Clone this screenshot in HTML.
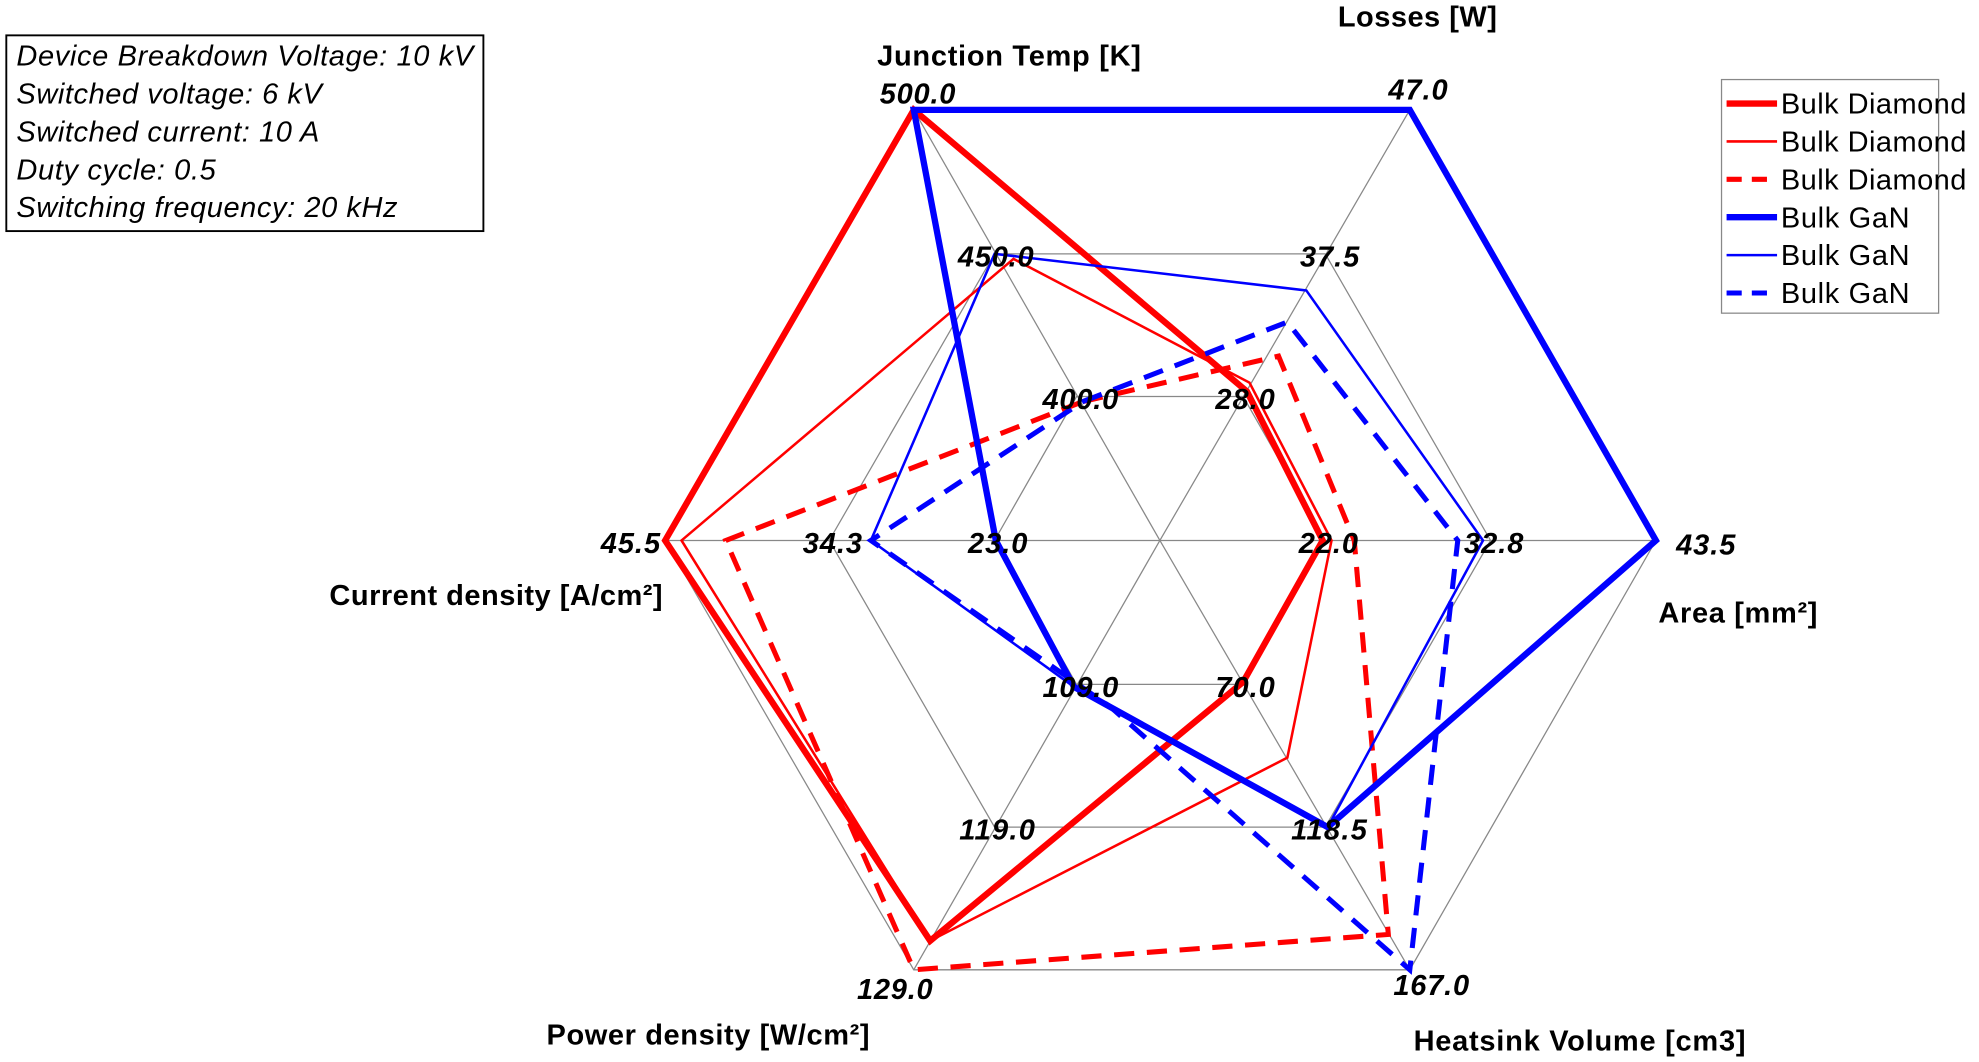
<!DOCTYPE html>
<html><head><style>body{margin:0;background:#fff}svg{display:block}</style></head><body>
<svg width="1979" height="1062" viewBox="0 0 1568 841" preserveAspectRatio="none" xmlns="http://www.w3.org/2000/svg" font-family="Liberation Sans, sans-serif">
<g stroke="#888" stroke-width="1" fill="none">
<polygon points="724,87 1117,87 1312,428 1117,768 724,768 527,428"/>
<polygon points="788,201 1050,201 1181,428 1050,655 788,655 657,428"/>
<polygon points="853,314 985,314 1050,428 985,542 853,542 788,428"/>
<line x1="919" y1="428" x2="724" y2="87"/><line x1="919" y1="428" x2="1117" y2="87"/>
<line x1="919" y1="428" x2="1312" y2="428"/><line x1="919" y1="428" x2="1117" y2="768"/>
<line x1="919" y1="428" x2="724" y2="768"/><line x1="919" y1="428" x2="527" y2="428"/>
</g>
<g fill="none" stroke-linejoin="miter">
<polygon stroke="#ff0000" stroke-width="5" points="724,87 988,310 1048,428 985,540 737,745 527,428"/>
<polygon stroke="#ff0000" stroke-width="2" points="803,205 990,303 1055,428 1020,600 737,745 540,428"/>
<polygon stroke="#ff0000" stroke-width="4" stroke-dasharray="16,10" points="858,318 1013,282 1073,428 1100,740 724,768 575,428"/>
<polygon stroke="#0000ff" stroke-width="5" points="724,87 1117,87 1312,428 1052,655 851,544 789,428"/>
<polygon stroke="#0000ff" stroke-width="2" points="788,201 1035,230 1175,428 1052,655 851,544 690,428"/>
<polygon stroke="#0000ff" stroke-width="4" stroke-dasharray="16,10" points="858,318 1020,255 1155,428 1117,768 880,560 690,428"/>
</g>
<g font-size="23" font-weight="bold" font-style="italic" fill="#000">
<text x="697" y="82" textLength="60">500.0</text><text x="1100" y="79" textLength="47">47.0</text>
<text x="759" y="211" textLength="60">450.0</text><text x="1030" y="211" textLength="47">37.5</text>
<text x="826" y="324" textLength="60">400.0</text><text x="963" y="324" textLength="47">28.0</text>
<text x="476" y="438" textLength="47">45.5</text><text x="636" y="438" textLength="47">34.3</text><text x="767" y="438" textLength="47">23.0</text>
<text x="1029" y="438" textLength="47">22.0</text><text x="1160" y="438" textLength="47">32.8</text><text x="1328" y="439" textLength="47">43.5</text>
<text x="826" y="552" textLength="60">109.0</text><text x="963" y="552" textLength="47">70.0</text>
<text x="760" y="665" textLength="60">119.0</text><text x="1023" y="665" textLength="60">118.5</text>
<text x="679" y="791" textLength="60">129.0</text><text x="1104" y="788" textLength="60">167.0</text>
</g>
<g font-size="23" font-weight="bold" fill="#000">
<text x="1060" y="21" textLength="126">Losses [W]</text>
<text x="695" y="52" textLength="209">Junction Temp [K]</text>
<text x="261" y="479" textLength="264">Current density [A/cm²]</text>
<text x="1314" y="493" textLength="126">Area [mm²]</text>
<text x="433" y="827" textLength="256">Power density [W/cm²]</text>
<text x="1120" y="832" textLength="263">Heatsink Volume [cm3]</text>
</g>
<rect x="5" y="28" width="378" height="155" fill="#fff" stroke="#000" stroke-width="1.5"/>
<g font-size="23" font-style="italic" fill="#000">
<text x="13" y="52" textLength="362">Device Breakdown Voltage: 10 kV</text>
<text x="13" y="82" textLength="242">Switched voltage: 6 kV</text>
<text x="13" y="112" textLength="240">Switched current: 10 A</text>
<text x="13" y="142" textLength="158">Duty cycle: 0.5</text>
<text x="13" y="172" textLength="302">Switching frequency: 20 kHz</text>
</g>
<rect x="1364" y="63" width="172" height="185" fill="#fff" stroke="#888" stroke-width="1"/>
<g fill="none">
<line x1="1368" y1="82" x2="1408" y2="82" stroke="#f00" stroke-width="5"/>
<line x1="1368" y1="112" x2="1408" y2="112" stroke="#f00" stroke-width="2"/>
<line x1="1368" y1="142" x2="1408" y2="142" stroke="#f00" stroke-width="4" stroke-dasharray="12,8"/>
<line x1="1368" y1="172" x2="1408" y2="172" stroke="#00f" stroke-width="5"/>
<line x1="1368" y1="202" x2="1408" y2="202" stroke="#00f" stroke-width="2"/>
<line x1="1368" y1="232" x2="1408" y2="232" stroke="#00f" stroke-width="4" stroke-dasharray="12,8"/>
</g>
<g font-size="23" fill="#000">
<text x="1411" y="90" textLength="147">Bulk Diamond</text><text x="1411" y="120" textLength="147">Bulk Diamond</text><text x="1411" y="150" textLength="147">Bulk Diamond</text>
<text x="1411" y="180" textLength="102">Bulk GaN</text><text x="1411" y="210" textLength="102">Bulk GaN</text><text x="1411" y="240" textLength="102">Bulk GaN</text>
</g>
</svg>
</body></html>
